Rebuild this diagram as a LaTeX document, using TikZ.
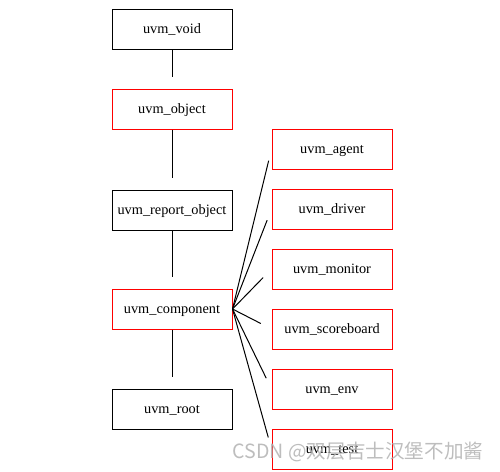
\documentclass[tikz,border=0pt]{standalone}
\usepackage{fontspec}
\setmainfont{Liberation Serif}
\newfontfamily\cjkfont{Noto Sans CJK SC}
\pgfdeclarelayer{foreground}
\pgfsetlayers{main,foreground}
\begin{document}
\begin{tikzpicture}[x=1pt,y=-1pt,
  uvmbox/.style={draw,line width=1pt,minimum width=120pt,minimum height=40pt,inner sep=0pt,text height=10.5pt,text depth=1.5pt,font=\fontsize{14.3}{16}\selectfont},
  blackbox/.style={uvmbox,draw=black},
  redbox/.style={uvmbox,draw=red},
  link/.style={line width=1pt,shorten >=12pt}]
\useasboundingbox (0,0) rectangle (500,471);
\node[blackbox] (void) at (172,29) {uvm\_void};
\node[redbox] (object) at (172,109) {uvm\_object};
\node[blackbox] (report) at (172,210) {uvm\_report\_object};
\node[redbox] (comp) at (172,309) {uvm\_component};
\node[blackbox] (root) at (172,409) {uvm\_root};
\node[redbox] (agent) at (332,149) {uvm\_agent};
\node[redbox] (driver) at (332,209) {uvm\_driver};
\node[redbox] (monitor) at (332,269) {uvm\_monitor};
\node[redbox] (scb) at (332,329) {uvm\_scoreboard};
\node[redbox] (env) at (332,389) {uvm\_env};
\node[redbox] (test) at (332,449) {uvm\_test};
\draw[link] (void) -- (object);
\draw[link] (object) -- (report);
\draw[link] (report) -- (comp);
\draw[link] (comp) -- (root);
\foreach \n in {agent,driver,monitor,scb,env,test}
  \draw[link] (comp.east) -- (\n.west);
\begin{pgfonlayer}{foreground}
\node[text=gray!60,opacity=0.85,font=\cjkfont\fontsize{19.6}{22}\selectfont] (mark) at (358,452) {CSDN @双层吉士汉堡不加酱};
\end{pgfonlayer}
\end{tikzpicture}
\end{document}
